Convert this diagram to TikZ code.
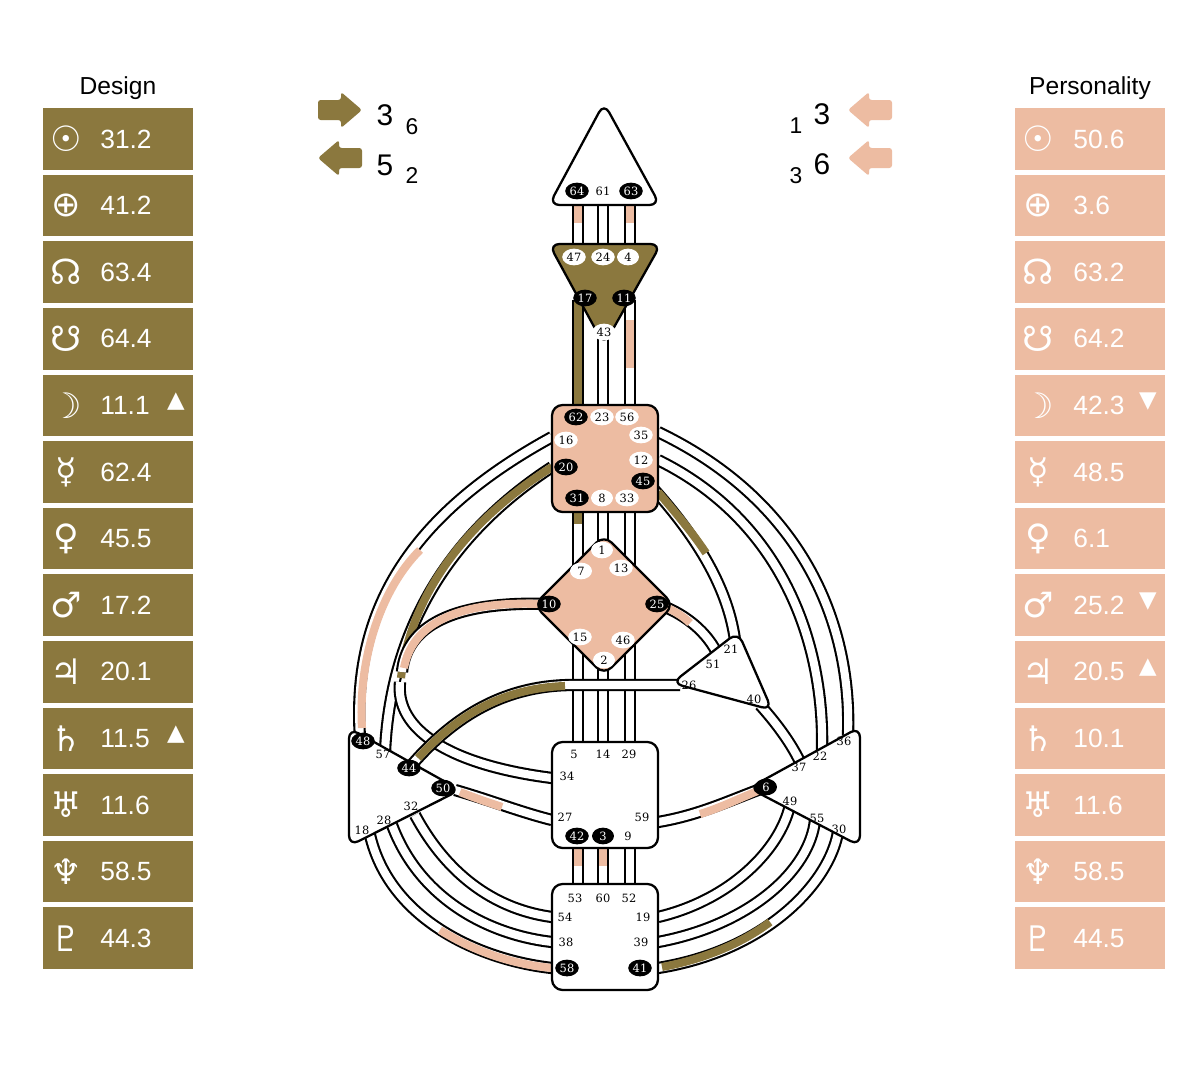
\documentclass[tikz,border=0pt]{standalone}
\usepackage{fontspec}
\setmainfont{Liberation Sans}
\newfontfamily\symf{DejaVu Sans}
\newfontfamily\gatef{DejaVu Serif}
\usetikzlibrary{shapes.geometric}
\definecolor{olv}{RGB}{139,120,62}
\definecolor{pnk}{RGB}{237,188,162}
\tikzset{
 chan/.style={line width=7pt,black,postaction={draw=white,line width=4.6pt}},
 ov/.style={line width=4.6pt,draw=#1},
 ctr/.style={draw=black,line width=1.3pt,rounded corners=6pt,line join=round},
 gb/.style={ellipse,fill=black,text=white,inner sep=0.6pt,minimum width=12.5pt,minimum height=9.5pt,font=\gatef\fontsize{6.5}{7}\selectfont},
 gw/.style={ellipse,fill=white,text=black,inner sep=0.6pt,minimum width=12.5pt,minimum height=9.5pt,font=\gatef\fontsize{6.5}{7}\selectfont},
 gt/.style={inner sep=0pt,font=\gatef\fontsize{6.5}{7}\selectfont},
 pbox/.style={fill=#1,minimum width=85pt,minimum height=35pt,inner sep=0pt},
 sym/.style={text=white,font=\symf\fontsize{20}{22}\selectfont,inner sep=0pt},
 val/.style={text=white,anchor=west,font=\fontsize{15}{17}\selectfont,inner sep=0pt},
 tri/.style={text=white,font=\symf\fontsize{13}{15}\selectfont,inner sep=0pt},
 big/.style={font=\fontsize{17}{19}\selectfont,inner sep=0pt},
 sml/.style={font=\fontsize{13}{15}\selectfont,inner sep=0pt},
}
\begin{document}
\begin{tikzpicture}[x=0.02cm,y=-0.02cm]
\useasboundingbox (0,0) rectangle (1200,1072);
\fill[white] (0,0) rectangle (1200,1072);
% ---------- panels
\node[font=\fontsize{14}{16}\selectfont] (dtitle) at (118,88) {Design};
\node[font=\fontsize{14}{16}\selectfont] (ptitle) at (1090,88) {Personality};
\foreach \i/\s/\dv/\dt/\pv/\pt in {0/☉/31.2//50.6/,1/⊕/41.2//3.6/,2/☊/63.4//63.2/,3/☋/64.4//64.2/,4/☽/11.1/▲/42.3/▼,5/☿/62.4//48.5/,6/♀/45.5//6.1/,7/♂/17.2//25.2/▼,8/♃/20.1//20.5/▲,9/♄/11.5/▲/10.1/,10/♅/11.6//11.6/,11/♆/58.5//58.5/,12/♇/44.3//44.5/}{
 \pgfmathsetmacro{\yy}{139+66.6*\i}
 \node[pbox=olv] (d\i) at (118,\yy) {};
 \node[pbox=pnk] (p\i) at (1090,\yy) {};
 \node[sym] at (66,\yy) {\s};
 \node[sym] at (1038,\yy) {\s};
 \node[val] at (100,\yy) {\dv};
 \node[val] at (1073,\yy) {\pv};
 \node[tri] at (176,\yy-4) {\dt};
 \node[tri] at (1148,\yy-4) {\pt};
}
% ---------- arrows
\fill[olv,rounded corners=1.5pt] (318,100)--(341,100)--(341,92)--(362,110)--(341,128)--(341,120)--(318,120)--cycle;
\fill[olv,rounded corners=1.5pt] (362,148)--(339,148)--(339,140)--(318,158)--(339,176)--(339,168)--(362,168)--cycle;
\fill[pnk,rounded corners=1.5pt] (892,100)--(869,100)--(869,92)--(848,110)--(869,128)--(869,120)--(892,120)--cycle;
\fill[pnk,rounded corners=1.5pt] (892,148)--(869,148)--(869,140)--(848,158)--(869,176)--(869,168)--(892,168)--cycle;
\node[big] at (385,115) {3}; \node[sml] at (412,127) {6};
\node[big] at (385,165) {5}; \node[sml] at (412,176) {2};
\node[sml] at (796,126) {1}; \node[big] at (822,114) {3};
\node[sml] at (796,176) {3}; \node[big] at (822,164) {6};
% ---------- channels
\foreach \x in {578,603,630}{
 \draw[chan] (\x,200)--(\x,250);
 \draw[chan] (\x,300)--(\x,410);
 \draw[chan] (\x,505)--(\x,575);
 \draw[chan] (\x,635)--(\x,745);
 \draw[chan] (\x,840)--(\x,890);}
\draw[ov=pnk] (578,205)--(578,223);
\draw[ov=pnk] (630,205)--(630,223);
\draw[ov=olv] (578,300)--(578,406);
\draw[ov=pnk] (630,320)--(630,368);
\draw[ov=olv] (578,510)--(578,524);
\draw[ov=pnk] (578,848)--(578,866);
\draw[ov=pnk] (603,848)--(603,866);
% left
\draw[chan] (552,437) .. controls (400,520) and (352,620) .. (360,738);
\draw[ov=pnk] (420,550) .. controls (380,590) and (358,660) .. (362,728);
\draw[chan] (552,467) .. controls (440,540) and (390,640) .. (385,752);
\draw[ov=olv] (552,467) .. controls (460,525) and (410,600) .. (401,678);
\draw[chan] (549,604) .. controls (430,600) and (405,640) .. (402,672);
\draw[ov=pnk] (540,604) .. controls (440,600) and (410,635) .. (404,668);
\draw[chan] (552,778) .. controls (450,765) and (395,730) .. (400,682);
\draw[chan] (409,768) .. controls (450,720) and (500,686) .. (570,685) -- (680,685);
\draw[ov=olv] (418,758) .. controls (455,718) and (500,688) .. (565,686);
\draw[chan] (455,790) .. controls (490,800) and (520,812) .. (552,820);
\draw[ov=pnk] (460,792) .. controls (475,798) and (490,803) .. (502,807);
\draw[chan] (370,835) .. controls (390,920) and (480,960) .. (552,968);
\draw[ov=pnk] (440,930) .. controls (480,955) and (520,965) .. (552,968);
\draw[chan] (392,825) .. controls (420,900) and (490,935) .. (552,942);
\draw[chan] (415,815) .. controls (450,880) and (500,910) .. (552,917);
% right
\draw[chan] (658,432) .. controls (800,500) and (852,620) .. (848,735);
\draw[chan] (658,460) .. controls (780,520) and (825,640) .. (822,752);
\draw[chan] (650,485) .. controls (700,540) and (728,590) .. (735,640);
\draw[ov=olv] (658,492) .. controls (675,512) and (692,532) .. (706,553);
\draw[chan] (657,604) .. controls (690,615) and (712,638) .. (720,660);
\draw[ov=pnk] (665,607) .. controls (675,611) and (684,617) .. (690,623);
\draw[chan] (760,705) .. controls (778,725) and (792,745) .. (800,762);
\draw[chan] (658,822) .. controls (700,815) and (730,800) .. (766,787);
\draw[ov=pnk] (700,814) .. controls (720,808) and (740,798) .. (760,790);
\draw[chan] (658,917) .. controls (730,900) and (780,850) .. (790,805);
\draw[chan] (658,942) .. controls (750,925) and (810,870) .. (815,820);
\draw[chan] (658,968) .. controls (770,950) and (830,880) .. (838,832);
\draw[ov=olv] (662,967) .. controls (700,960) and (740,945) .. (770,922);
% ---------- centers
\draw[ctr,fill=white] (604,103)--(660,205)--(549,205)--cycle;
\draw[ctr,fill=olv] (549,244)--(661,244)--(604,345)--cycle;
\draw[ctr,fill=pnk] (552,405) rectangle (658,512);
\draw[ctr,fill=pnk] (604,535)--(674,605)--(604,675)--(534,605)--cycle;
\draw[ctr,fill=white] (738,632)--(772,710)--(672,683)--cycle;
\draw[ctr,fill=white] (552,742) rectangle (658,848);
\draw[ctr,fill=white] (552,884) rectangle (658,990);
\draw[ctr,fill=white] (349,728)--(460,790)--(349,846)--cycle;
\draw[ctr,fill=white] (860,727)--(860,846)--(749,788)--cycle;
% ---------- gates
\node[gb] (g64) at (577,191) {64}; \node[gt] (g61) at (603,191) {61}; \node[gb] (g63) at (631,191) {63};
\node[gw] (g47) at (574,257) {47}; \node[gw] (g24) at (603,257) {24}; \node[gw] (g4) at (628,257) {4};
\node[gb] (g17) at (585,298) {17}; \node[gb] (g11) at (624,298) {11}; \node[gw] (g43) at (604,332) {43};
\node[gb] (g62) at (576,417) {62}; \node[gw] (g23) at (602,417) {23}; \node[gw] (g56) at (627,417) {56};
\node[gw] (g16) at (566,440) {16}; \node[gw] (g35) at (641,435) {35};
\node[gb] (g20) at (566,467) {20}; \node[gw] (g12) at (641,460) {12}; \node[gb] (g45) at (643,481) {45};
\node[gb] (g31) at (577,498) {31}; \node[gw] (g8) at (602,498) {8}; \node[gw] (g33) at (627,498) {33};
\node[gw] (g1) at (602,550) {1}; \node[gw] (g7) at (581,571) {7}; \node[gw] (g13) at (621,568) {13};
\node[gb] (g10) at (549,604) {10}; \node[gb] (g25) at (657,604) {25};
\node[gw] (g15) at (580,637) {15}; \node[gw] (g46) at (623,640) {46}; \node[gw] (g2) at (604,660) {2};
\node[gt] (g21) at (731,649) {21}; \node[gt] (g51) at (713,664) {51}; \node[gt] (g26) at (689,685) {26}; \node[gt] (g40) at (754,699) {40};
\node[gt] (g5) at (574,754) {5}; \node[gt] (g14) at (603,754) {14}; \node[gt] (g29) at (629,754) {29};
\node[gt] (g34) at (567,776) {34}; \node[gt] (g27) at (565,817) {27}; \node[gt] (g59) at (642,817) {59};
\node[gb] (g42) at (577,836) {42}; \node[gb] (g3) at (603,836) {3}; \node[gt] (g9) at (628,836) {9};
\node[gt] (g53) at (575,898) {53}; \node[gt] (g60) at (603,898) {60}; \node[gt] (g52) at (629,898) {52};
\node[gt] (g54) at (565,917) {54}; \node[gt] (g19) at (643,917) {19};
\node[gt] (g38) at (566,942) {38}; \node[gt] (g39) at (641,942) {39};
\node[gb] (g58) at (567,968) {58}; \node[gb] (g41) at (640,968) {41};
\node[gb] (g48) at (363,741) {48}; \node[gt] (g57) at (383,754) {57}; \node[gb] (g44) at (409,768) {44};
\node[gb] (g50) at (443,788) {50}; \node[gt] (g32) at (411,806) {32}; \node[gt] (g28) at (384,820) {28}; \node[gt] (g18) at (362,830) {18};
\node[gt] (g36) at (844,741) {36}; \node[gt] (g22) at (820,756) {22}; \node[gt] (g37) at (799,767) {37};
\node[gb] (g6) at (766,787) {6}; \node[gt] (g49) at (790,801) {49}; \node[gt] (g55) at (817,818) {55}; \node[gt] (g30) at (839,829) {30};
\end{tikzpicture}
\end{document}
